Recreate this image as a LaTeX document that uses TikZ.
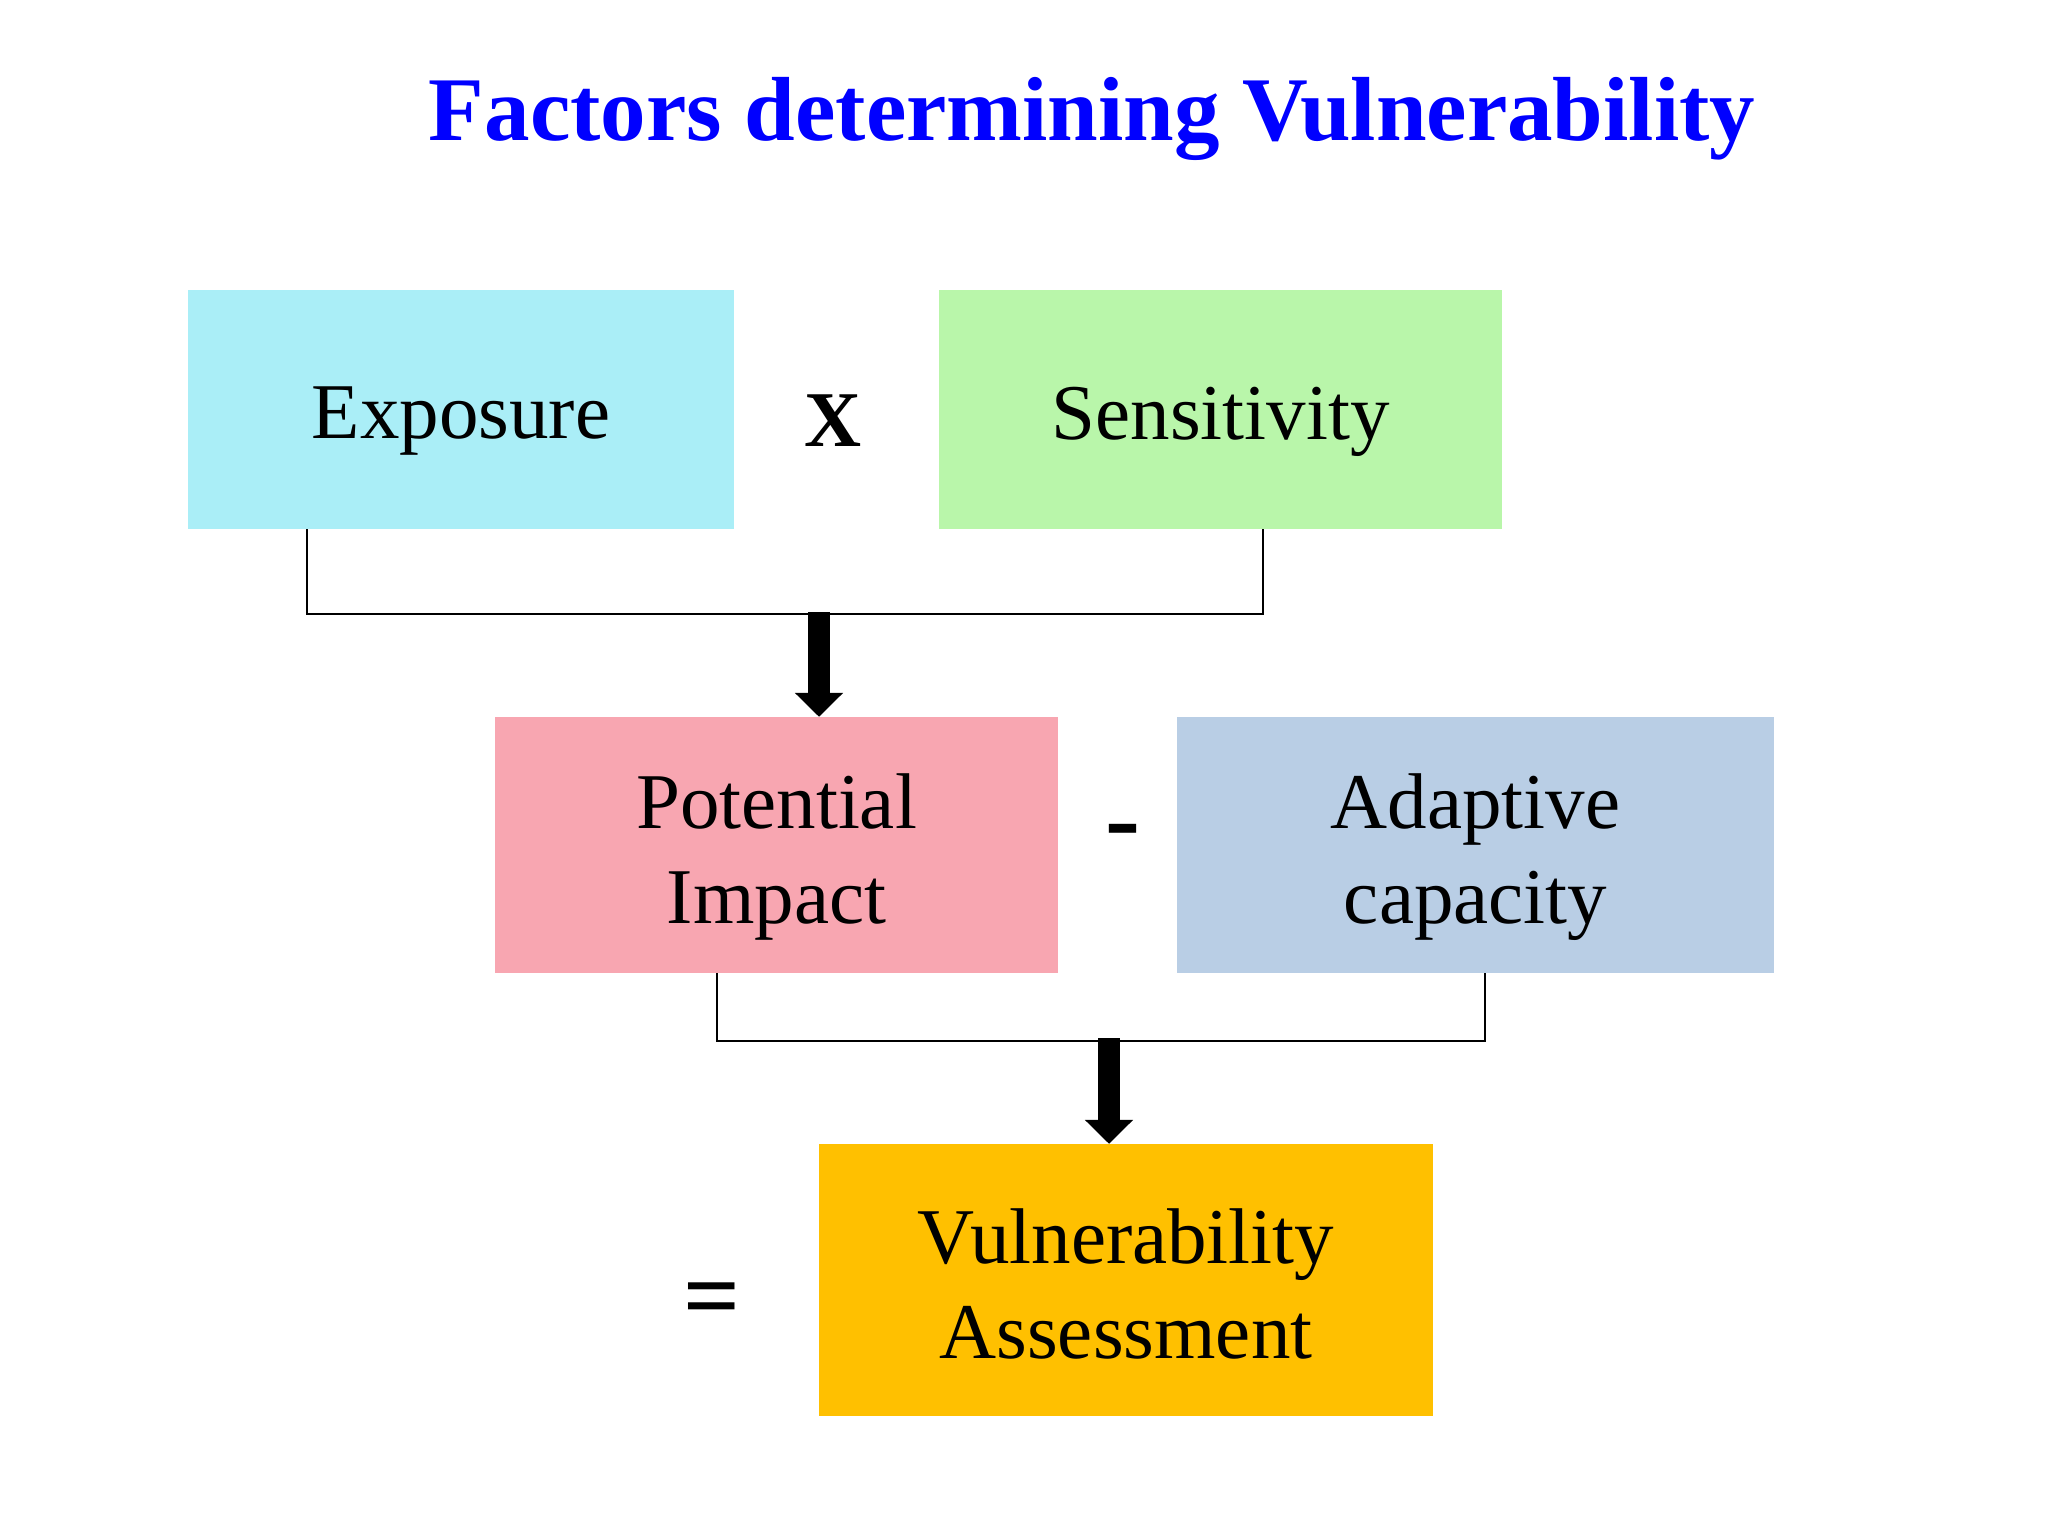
\documentclass[tikz,border=0pt]{standalone}
\usepackage{fontspec}
\setmainfont{Liberation Serif}
\usetikzlibrary{arrows.meta}
\definecolor{expocol}{RGB}{170,238,247}
\definecolor{senscol}{RGB}{185,246,170}
\definecolor{potcol}{RGB}{248,166,177}
\definecolor{adaptcol}{RGB}{185,206,229}
\definecolor{vulncol}{RGB}{255,192,0}
\definecolor{titlecol}{RGB}{0,0,255}
\tikzset{
  boxnode/.style={rectangle, draw=none, inner sep=0pt},
  boxtext/.style={inner sep=0pt, align=center,
    font=\fontsize{79}{95}\selectfont},
  joinline/.style={draw=black, line width=1.6pt},
  bigarrow/.style={line width=22pt, draw=black,
    -{Triangle[width=47pt,length=24pt]}},
  opnode/.style={inner sep=0pt, anchor=base}
}
\begin{document}
\begin{tikzpicture}[x=1pt,y=-1pt]
\useasboundingbox (0,0) rectangle (2048,1536);
\node[opnode, text=titlecol, font=\fontsize{91}{100}\selectfont\bfseries] (title) at (1092,141) {Factors determining Vulnerability};

\node[boxnode, fill=expocol, minimum width=546pt, minimum height=239pt] (expo) at (461,409.5) {};
\node[boxnode, fill=senscol, minimum width=563pt, minimum height=239pt] (sens) at (1220.5,409.5) {};
\node[boxnode, fill=potcol, minimum width=563pt, minimum height=256pt] (pot) at (776.5,845) {};
\node[boxnode, fill=adaptcol, minimum width=597pt, minimum height=256pt] (adapt) at (1475.5,845) {};
\node[boxnode, fill=vulncol, minimum width=614pt, minimum height=272pt] (vuln) at (1126,1280) {};

\node[boxtext] (expotext) at ([yshift=-12pt]expo.center) {Exposure};
\node[boxtext] (senstext) at ([yshift=-12pt]sens.center) {Sensitivity};
\node[boxtext] (pottext) at ([yshift=-12pt]pot.center) {Potential\\Impact};
\node[boxtext] (adapttext) at ([yshift=-12pt]adapt.center) {Adaptive\\capacity};
\node[boxtext] (vulntext) at ([yshift=-4pt]vuln.center) {Vulnerability\\Assessment};

\node[opnode, font=\fontsize{79}{90}\selectfont\bfseries] (times) at (833,446) {X};
\node[opnode, font=\fontsize{105}{110}\selectfont\bfseries] (minus) at (1123,853) {-};
\node[opnode, font=\fontsize{100}{110}\selectfont\bfseries] (equals) at (712,1329) {=};

\coordinate (j1) at (0,614);
\coordinate (j2) at (0,1041);
\coordinate (a1) at (819,612);
\coordinate (a2) at (1109,1038);

\draw[joinline] ([xshift=-154pt]expo.south) |- ([xshift=42.5pt]sens.south |- j1) -- ([xshift=42.5pt]sens.south);
\draw[joinline] ([xshift=-59.5pt]pot.south) |- ([xshift=9.5pt]adapt.south |- j2) -- ([xshift=9.5pt]adapt.south);

\draw[bigarrow] (a1) -- (a1 |- pot.north);
\draw[bigarrow] (a2) -- (a2 |- vuln.north);
\end{tikzpicture}
\end{document}
